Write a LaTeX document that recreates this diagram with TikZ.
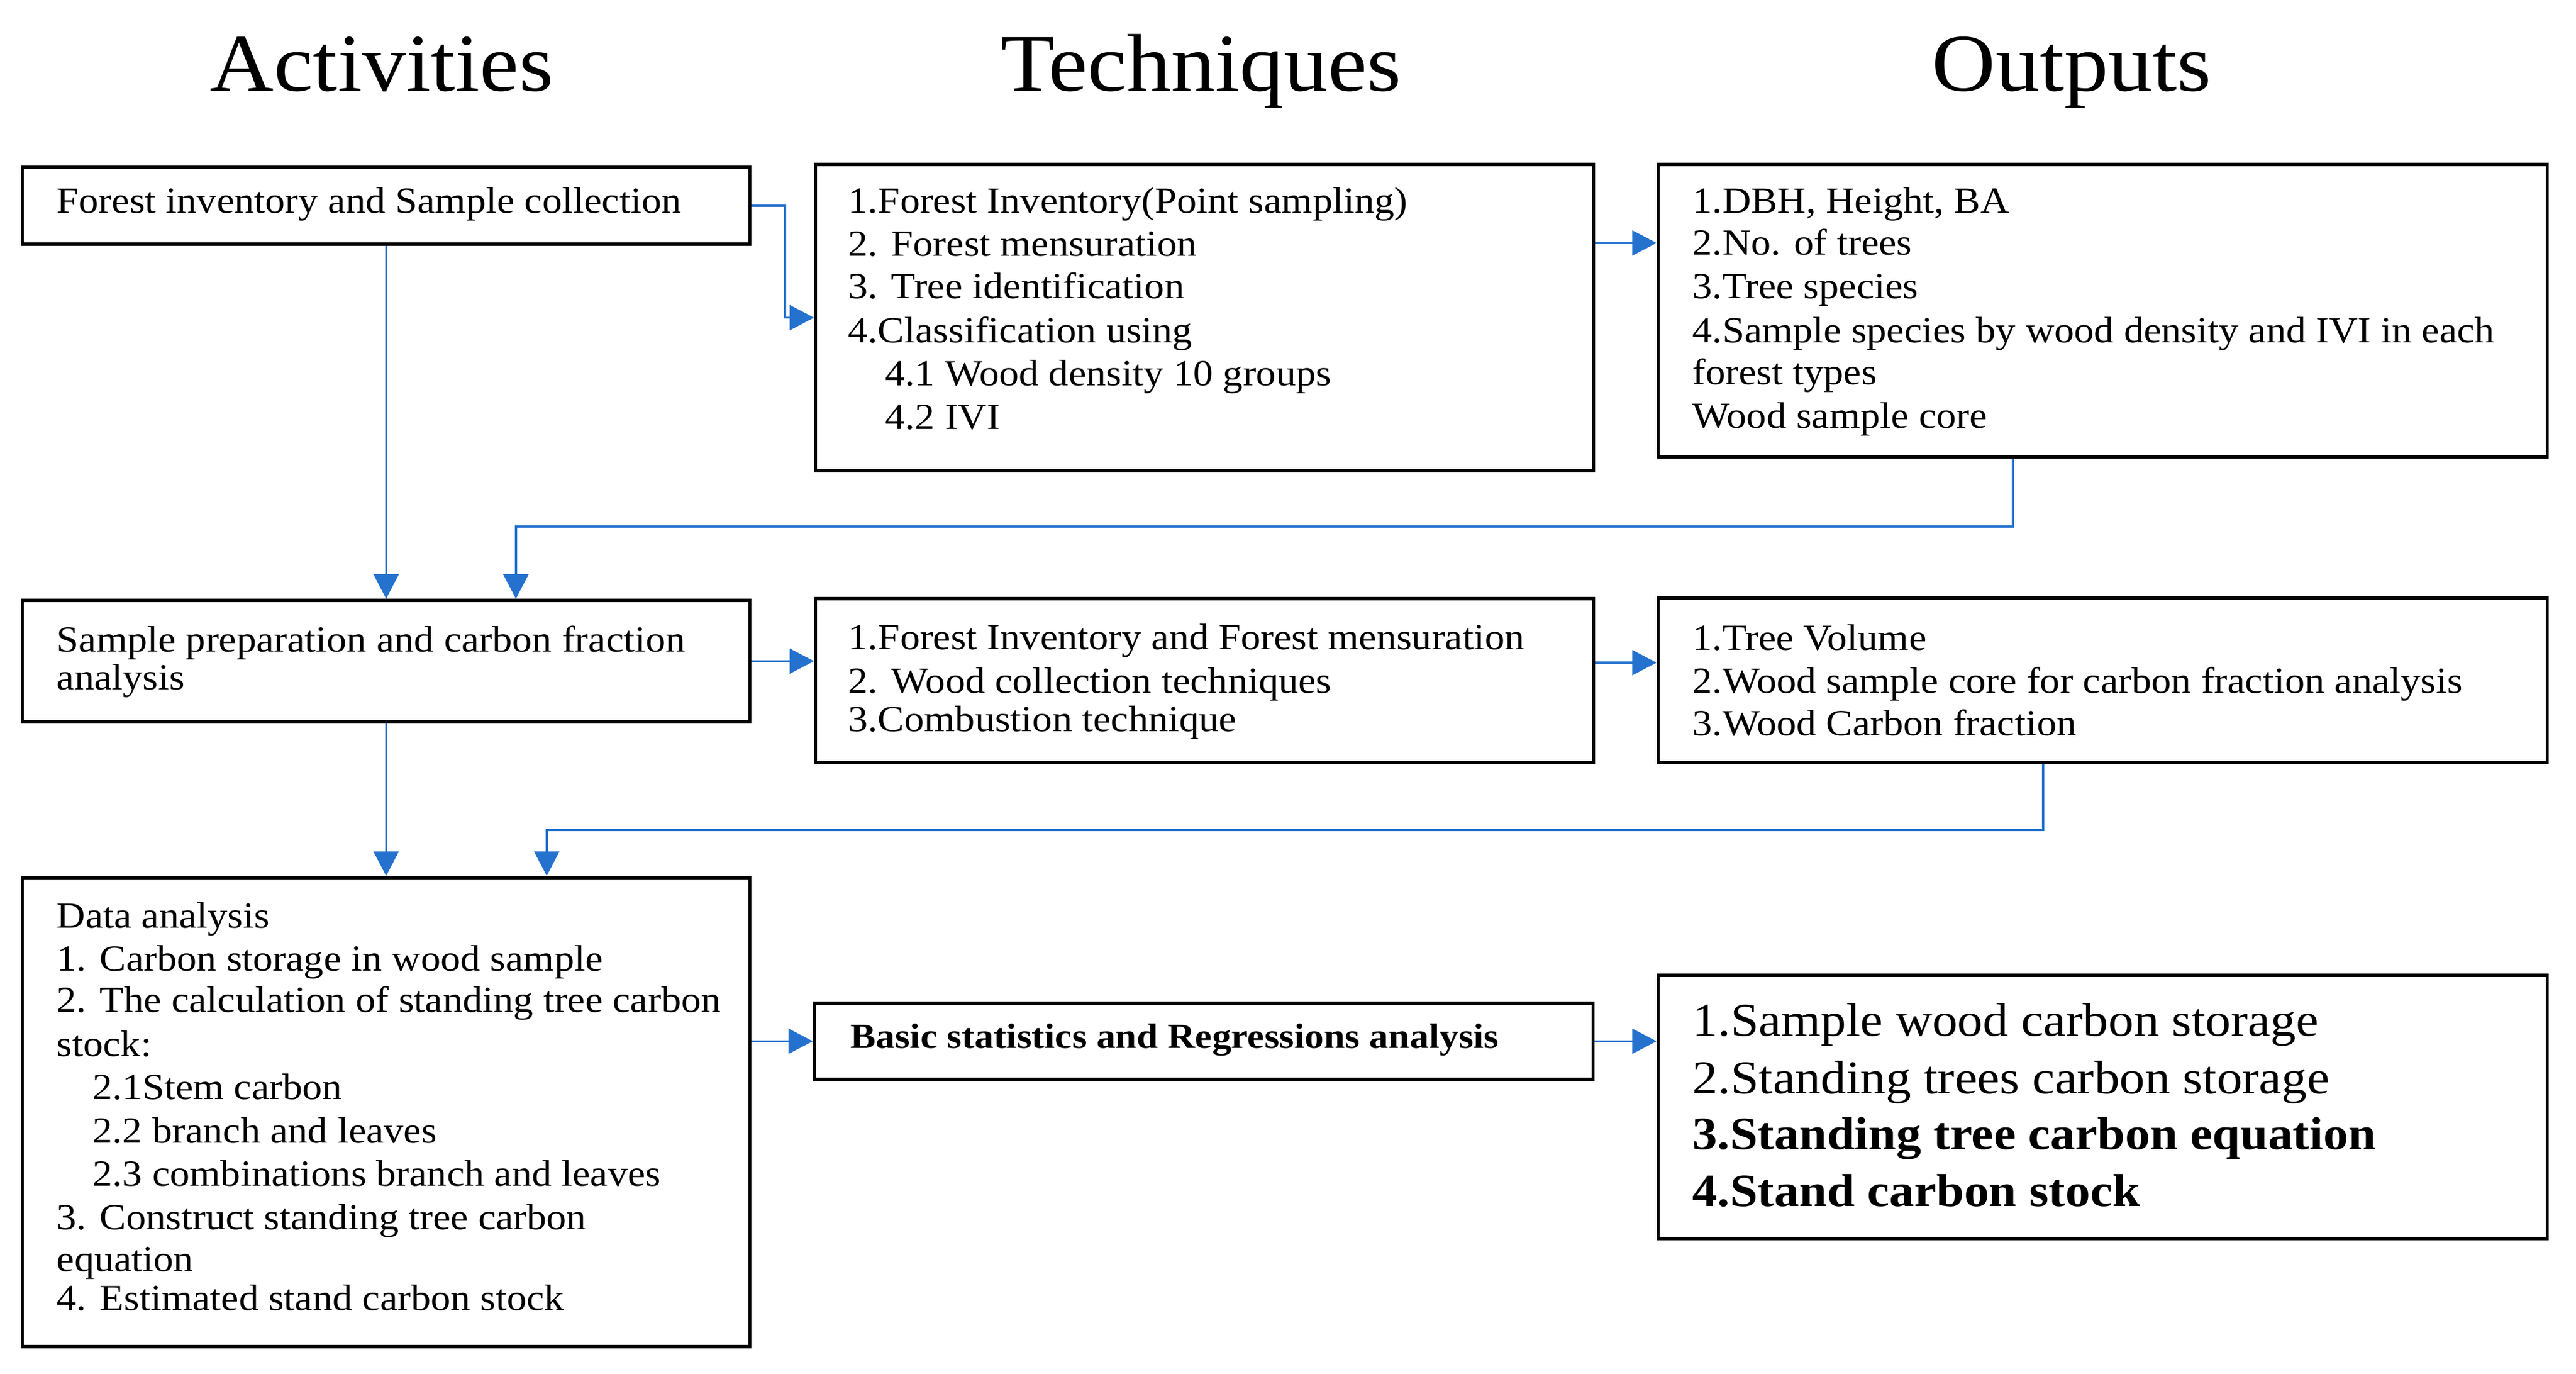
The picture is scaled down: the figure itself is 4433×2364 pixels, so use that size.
\documentclass[tikz,border=0pt]{standalone}
\usepackage{fontspec}
\setmainfont{Liberation Serif}[FakeStretch=1.08]
\usetikzlibrary{arrows.meta,calc}
\definecolor{conblue}{RGB}{36,114,206}
\begin{document}
\begin{tikzpicture}[x=0.01cm,y=-0.01cm,
  box/.style={draw=black, line width=1.6pt, inner sep=0pt, fill=white},
  conn/.style={draw=conblue, line width=1pt, -{Triangle[length=4.2mm,width=4.3mm]}},
  txt/.style={anchor=base west, inner sep=0pt, font=\fontsize{18}{20}\selectfont},
  big/.style={anchor=base west, inner sep=0pt, font=\fontsize{23}{26}\selectfont},
  head/.style={anchor=base, inner sep=0pt, font=\fontsize{40}{48}\selectfont}]
\useasboundingbox (0,0) rectangle (4433,2364);

% headings
\node[head] (h1) at (657,157) {Activities};
\node[head] (h2) at (2067,157) {Techniques};
\node[head] (h3) at (3565,157) {Outputs};

% boxes
\node[box, minimum width=12.51cm, minimum height=1.32cm] (a1) at (664.5,354) {};
\node[box, minimum width=13.38cm, minimum height=5.27cm] (t1) at (2073,546.5) {};
\node[box, minimum width=15.29cm, minimum height=5.03cm] (o1) at (3618.5,534.5) {};
\node[box, minimum width=12.51cm, minimum height=2.09cm] (a2) at (664.5,1137.5) {};
\node[box, minimum width=13.38cm, minimum height=2.82cm] (t2) at (2073,1171) {};
\node[box, minimum width=15.29cm, minimum height=2.83cm] (o2) at (3618.5,1170.5) {};
\node[box, minimum width=12.51cm, minimum height=8.07cm] (a3) at (664.5,1913.5) {};
\node[box, minimum width=13.39cm, minimum height=1.31cm] (b) at (2071.5,1791.5) {};
\node[box, minimum width=15.29cm, minimum height=4.53cm] (o3) at (3618.5,1904.5) {};

% texts
\node[txt] (a1l1) at (97,367) {Forest inventory and Sample collection};

\node[txt] (t1l1) at (1459,367) {1.Forest Inventory(Point sampling)};
\node[txt] (t1l2) at (1459,441) {2. Forest mensuration};
\node[txt] (t1l3) at (1459,514) {3. Tree identification};
\node[txt] (t1l4) at (1459,589) {4.Classification using};
\node[txt] (t1l5) at (1523,663) {4.1 Wood density 10 groups};
\node[txt] (t1l6) at (1523,738) {4.2 IVI};

\node[txt] (o1l1) at (2912,367) {1.DBH, Height, BA};
\node[txt] (o1l2) at (2912,439) {2.No. of trees};
\node[txt] (o1l3) at (2912,514) {3.Tree species};
\node[txt] (o1l4) at (2912,589) {4.Sample species by wood density and IVI in each};
\node[txt] (o1l5) at (2912,661) {forest types};
\node[txt] (o1l6) at (2912,736) {Wood sample core};

\node[txt] (a2l1) at (97,1121) {Sample preparation and carbon fraction};
\node[txt] (a2l2) at (97,1186) {analysis};

\node[txt] (t2l1) at (1459,1117) {1.Forest Inventory and Forest mensuration};
\node[txt] (t2l2) at (1459,1192) {2. Wood collection techniques};
\node[txt] (t2l3) at (1459,1258) {3.Combustion technique};

\node[txt] (o2l1) at (2912,1118) {1.Tree Volume};
\node[txt] (o2l2) at (2912,1192) {2.Wood sample core for carbon fraction analysis};
\node[txt] (o2l3) at (2912,1265) {3.Wood Carbon fraction};

\node[txt] (a3l1) at (97,1596) {Data analysis};
\node[txt] (a3l2) at (97,1670) {1. Carbon storage in wood sample};
\node[txt] (a3l3) at (97,1741) {2. The calculation of standing tree carbon};
\node[txt] (a3l4) at (97,1817) {stock:};
\node[txt] (a3l5) at (159,1891) {2.1Stem carbon};
\node[txt] (a3l6) at (159,1966) {2.2 branch and leaves};
\node[txt] (a3l7) at (159,2040) {2.3 combinations branch and leaves};
\node[txt] (a3l8) at (97,2115) {3. Construct standing tree carbon};
\node[txt] (a3l9) at (97,2187) {equation};
\node[txt] (a3l10) at (97,2254) {4. Estimated stand carbon stock};

\node[txt, font=\fontsize{17.3}{20}\selectfont\bfseries] (bl1) at (1463,1803) {Basic statistics and Regressions analysis};

\node[big] (o3l1) at (2912,1782) {1.Sample wood carbon storage};
\node[big] (o3l2) at (2912,1881) {2.Standing trees carbon storage};
\node[big, font=\fontsize{22.6}{26}\selectfont\bfseries] (o3l3) at (2912,1977) {3.Standing tree carbon equation};
\node[big, font=\fontsize{22.6}{26}\selectfont\bfseries] (o3l4) at (2912,2075) {4.Stand carbon stock};

% connectors
\draw[conn] (a1.east) -- ++(58,0) |- (t1.west);
\draw[conn] ($(t1.north east)+(0,138)$) -- ($(o1.north west)+(0,138)$);
\draw[conn] (a1.south) -- (a2.north);
\draw[conn] ($(o1.south west)+(613,0)$) -- ++(0,117) -| ($(a2.north west)+(852,0)$);
\draw[conn] (a2.east) -- (a2.east -| t2.west);
\draw[conn] ($(t2.north east)+(0,113)$) -- ($(o2.north west)+(0,114)$);
\draw[conn] (a2.south) -- (a3.north);
\draw[conn] ($(o2.south west)+(665,0)$) -- ++(0,113) -| ($(a3.north west)+(905,0)$);
\draw[conn] (a3.east |- b.west) -- (b.west);
\draw[conn] (b.east) -- (b.east -| o3.west);
\end{tikzpicture}
\end{document}
